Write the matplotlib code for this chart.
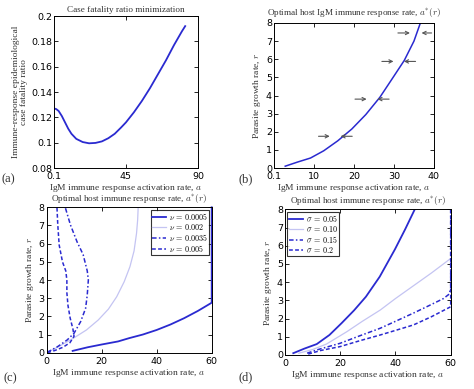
import matplotlib
matplotlib.use("Agg")
import matplotlib.pyplot as plt
import numpy as np

plt.rcParams['mathtext.fontset'] = 'cm'
plt.rcParams['font.family'] = ['DejaVu Sans']

# ---- data (a)
a_x = [0.1, 1.5, 3, 5, 7, 9, 11, 14, 18, 22, 26, 30, 34, 38, 42, 45, 50, 55, 60, 65, 70, 75, 80, 82]
a_y = [0.127, 0.1265, 0.125, 0.121, 0.116, 0.111, 0.107, 0.103, 0.1005, 0.0995, 0.0998, 0.101,
       0.1035, 0.107, 0.112, 0.116, 0.124, 0.133, 0.143, 0.154, 0.165, 0.177, 0.188, 0.192]

# ---- data (b)
b_a = [2.9, 6.0, 9.2, 12.5, 16.0, 19.5, 23.0, 26.5, 29.5, 32.6, 35.0, 36.6]
b_r = [0.1, 0.33, 0.55, 0.95, 1.5, 2.15, 2.95, 3.9, 4.9, 5.94, 7.0, 8.0]
arrow_r = [1.75, 3.8, 5.88, 7.45]
arrow_right_from = [11.2, 20.3, 27.0, 31.0]
arrow_right_to = [14.0, 23.2, 29.9, 34.0]
arrow_left_from = [19.6, 28.8, 35.4, 39.4]
arrow_left_to = [16.7, 25.9, 32.5, 36.9]

# ---- data (c)
c_labels = [r'$\nu\, =\, 0.0005$', r'$\nu\, =\, 0.002$', r'$\nu\, =\, 0.0035$', r'$\nu\, =\, 0.005$']
c1_a = [9.5, 15, 20, 26, 30, 35, 40, 45, 50, 55, 60, 60, 60]
c1_r = [0.1, 0.3, 0.45, 0.62, 0.8, 1.0, 1.25, 1.55, 1.9, 2.3, 2.75, 3.0, 8.0]
c2_a = [0.0, 4.0, 9.7, 14.5, 18.8, 22.5, 25.5, 28.2, 30.3, 31.8, 32.7, 33.1, 33.3]
c2_r = [0.0, 0.3, 0.79, 1.25, 1.8, 2.4, 3.08, 3.9, 4.73, 5.6, 6.57, 7.3, 8.0]
c3_a = [0.2, 4.0, 7.5, 10.0, 12.4, 14.2, 14.8, 15.2, 14.8, 13.3, 11.1, 8.7, 6.8]
c3_r = [0.02, 0.33, 0.7, 1.07, 1.71, 2.44, 3.18, 4.0, 4.5, 5.4, 6.1, 7.03, 8.0]
c4_a = [0.3, 3.0, 6.0, 8.5, 10.0, 9.6, 8.6, 7.8, 7.4, 7.4, 7.0, 5.8, 4.6, 4.1, 3.8]
c4_r = [0.0, 0.12, 0.3, 0.55, 0.9, 1.3, 1.9, 2.6, 3.3, 4.0, 4.5, 5.0, 5.93, 7.03, 8.0]

# ---- data (d)
d_labels = [r'$\sigma\, =\, 0.05$', r'$\sigma\, =\, 0.10$', r'$\sigma\, =\, 0.15$', r'$\sigma\, =\, 0.2$']
d1_a = [3.0, 7.0, 11.5, 16.1, 20.5, 25.0, 29.3, 34.3, 39.8, 43.5, 47.0]
d1_r = [0.1, 0.35, 0.6, 1.1, 1.75, 2.45, 3.2, 4.3, 5.8, 6.9, 8.0]
d2_a = [5.0, 10.0, 15.0, 22.4, 28.0, 34.5, 40.0, 46.5, 53.0, 60.0]
d2_r = [0.1, 0.3, 0.6, 1.28, 1.85, 2.47, 3.1, 3.8, 4.5, 5.3]
d3_a = [8.0, 12.0, 19.9, 27.0, 34.5, 40.0, 46.5, 52.0, 57.4, 59.5, 60.0, 60.0]
d3_r = [0.1, 0.3, 0.64, 1.05, 1.47, 1.85, 2.3, 2.7, 3.1, 3.35, 3.7, 8.0]
d4_a = [8.4, 13.0, 19.9, 27.0, 34.5, 40.0, 46.5, 53.0, 60.0, 60.0]
d4_r = [0.05, 0.25, 0.46, 0.78, 1.1, 1.35, 1.65, 2.1, 2.65, 8.0]

W, H = 474, 389
fig = plt.figure(figsize=(W / 100, H / 100), dpi=100)

BLUE = '#2a2ad0'
LIGHT = '#c4c4f2'
TXT = '#333333'
serif = ['Liberation Serif', 'DejaVu Serif']
lab_fs = 6.8
title_fs = 6.6
tick_fs = 6.8


def box(l, r, t, b):
    return fig.add_axes([l / W, 1 - b / H, (r - l) / W, (b - t) / H])


def style(ax):
    ax.tick_params(direction='in', top=True, right=True, length=3, width=0.6,
                   labelsize=tick_fs, colors='black')
    ax.tick_params(axis='x', pad=3)
    ax.tick_params(axis='y', pad=1.5)
    for s in ax.spines.values():
        s.set_linewidth(0.7)


def legend(ax, loc):
    leg = ax.legend(loc=loc, fontsize=5.8, frameon=True, fancybox=False, borderpad=0.15,
                    labelspacing=0.0, handlelength=1.8, handletextpad=0.3, borderaxespad=0.3)
    leg.get_frame().set_edgecolor('black')
    leg.get_frame().set_linewidth(0.8)
    return leg


axa = box(54, 198, 16, 168)
axb = box(274, 434, 23, 168)
axc = box(46.5, 211.7, 207.3, 352.7)
axd = box(285, 450.7, 209.3, 355)

# (a)
axa.plot(a_x, a_y, color=BLUE, lw=1.3)
axa.set_xlim(0.1, 90)
axa.set_ylim(0.08, 0.2)
axa.set_xticks([0.1, 45, 90])
axa.set_xticklabels(['0.1', '45', '90'])
axa.set_yticks([0.08, 0.1, 0.12, 0.14, 0.16, 0.18, 0.2])
axa.set_yticklabels(['0.08', '0.1', '0.12', '0.14', '0.16', '0.18', '0.2'])
axa.set_title('Case fatality ratio minimization', fontsize=title_fs, family=serif, color=TXT, pad=3)
axa.set_xlabel(r'IgM immune response activation rate, $a$', fontsize=lab_fs, family=serif, color=TXT, labelpad=0.5)
axa.set_ylabel('Immune-response epidemiological\ncase fatality ratio', fontsize=lab_fs, family=serif,
               color=TXT, labelpad=2, linespacing=0.95)
style(axa)

# (b)
axb.plot(b_a, b_r, color=BLUE, lw=1.1)
for r, f1, t1, f2, t2 in zip(arrow_r, arrow_right_from, arrow_right_to, arrow_left_from, arrow_left_to):
    for f, t in ((f1, t1), (f2, t2)):
        axb.annotate('', xy=(t, r), xytext=(f, r),
                     arrowprops=dict(arrowstyle='->', color='#555555', lw=0.8,
                                     shrinkA=0, shrinkB=0, mutation_scale=6))
axb.set_xlim(0.1, 40)
axb.set_ylim(0, 8)
axb.set_xticks([0.1, 10, 20, 30, 40])
axb.set_xticklabels(['0.1', '10', '20', '30', '40'])
axb.set_yticks(range(0, 9))
axb.set_title(r'Optimal host IgM immune response rate, $a^{*}(r)$', fontsize=title_fs, family=serif, color=TXT, pad=5)
axb.set_xlabel(r'IgM immune response activation rate, $a$', fontsize=lab_fs, family=serif, color=TXT, labelpad=0.5)
axb.set_ylabel(r'Parasite growth rate, $r$', fontsize=lab_fs, family=serif, color=TXT, labelpad=2)
style(axb)

# (c)
axc.plot(c1_a, c1_r, color=BLUE, lw=1.3, ls='-', label=c_labels[0], clip_on=False)
axc.plot(c2_a, c2_r, color=LIGHT, lw=0.9, ls='-', label=c_labels[1])
axc.plot(c3_a, c3_r, color=BLUE, lw=1.1, ls=(0, (3, 1.5, 1, 1.5)), label=c_labels[2])
axc.plot(c4_a, c4_r, color=BLUE, lw=1.1, ls=(0, (2.5, 1.5)), label=c_labels[3])
axc.set_xlim(0, 60)
axc.set_ylim(0, 8)
axc.set_xticks([0, 20, 40, 60])
axc.set_yticks(range(0, 9))
axc.set_title(r'Optimal host immune response rate, $a^{*}(r)$', fontsize=title_fs, family=serif, color=TXT, pad=4)
axc.set_xlabel(r'IgM immune response activation rate, $a$', fontsize=lab_fs, family=serif, color=TXT, labelpad=0.5)
axc.set_ylabel(r'Parasite growth rate, $r$', fontsize=lab_fs, family=serif, color=TXT, labelpad=2)
legend(axc, 'upper right')
style(axc)

# (d)
axd.plot(d1_a, d1_r, color=BLUE, lw=1.3, ls='-', label=d_labels[0])
axd.plot(d2_a, d2_r, color=LIGHT, lw=0.9, ls='-', label=d_labels[1])
axd.plot(d3_a, d3_r, color=BLUE, lw=1.1, ls=(0, (3, 1.5, 1, 1.5)), label=d_labels[2], clip_on=False)
axd.plot(d4_a, d4_r, color=BLUE, lw=1.1, ls=(0, (2.5, 1.5)), label=d_labels[3], clip_on=False)
axd.set_xlim(0, 60)
axd.set_ylim(0, 8)
axd.set_xticks([0, 20, 40, 60])
axd.set_yticks(range(0, 9))
axd.set_title(r'Optimal host immune response rate, $a^{*}(r)$', fontsize=title_fs, family=serif, color=TXT, pad=4)
axd.set_xlabel(r'IgM immune response activation rate, $a$', fontsize=lab_fs, family=serif, color=TXT, labelpad=0.5)
axd.set_ylabel(r'Parasite growth rate, $r$', fontsize=lab_fs, family=serif, color=TXT, labelpad=2)
legend(axd, 'upper left')
style(axd)

# panel letters
for txt, x, y in (('(a)', 1, 179), ('(b)', 239, 179), ('(c)', 3, 378), ('(d)', 239, 377)):
    fig.text(x / W, 1 - y / H, txt, fontsize=9, family=serif, color=TXT, va='center', ha='left')

fig.savefig('out.png', dpi=100)
